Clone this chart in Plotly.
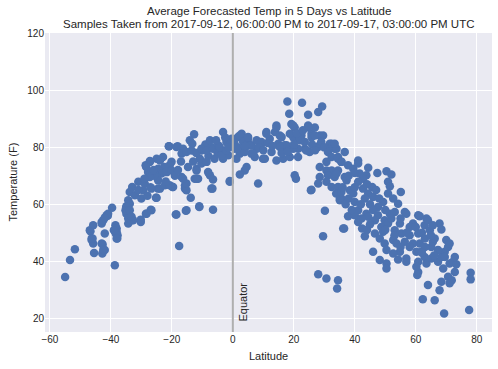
import plotly.graph_objects as go

south_lat = [-55,-53.4,-51.8,-46.9,-46.3,-45.8,-45.5,-45.8,-43,-41.4,-42,-42.7,-42,-42.8,-38.7,-38.1,-38.4,-37.9,-39.6,-34.9,-34.3,-32.7,-34.3,-30.2,-28.5,-26.9,-25.2,-18.7,-17.6,-15.4,-11,-6.7,-6.5,-1,-13.8,-15.7,-19.8,-24.5,
 -46.3,-46.7,-43,-42.5,-41,-43,-42.5,-46,-38.5,-38.1,-37.8,-39,-38.1,
 -34.9,-34.3,-33.2,-28.3,-26.7,-40.9,-42,-34.3,-33.8,-34.9,-35.2,-33.8,-33.2,-30.2,
 -12.7,-14.1,-13.3,-10.3,-21,-18.1,-16.3,-16.8,-15.2,-13.5,-22.9,-25,-23.9,-27.2,-28.6,-20.1,-20.7,-22.5,-24.5,-27.8,-23.4,-25,-24.5,-21.7,-20.1,-25.8,-27.2,-31,-28.9,-26.7,-33,-33.8,-32.1,-29.4,-23.9,-22.3,-20.7,-19.6,-25,-16.8,-15.7,-15.2,-14.7,-11.9,-11.4,-12.5,-10.3,-10.8,-11,-15.2,-18.5,
 -20.9,-18.5,-27.2,-28.4,-15.2,-11.9,-16.3,
 -30,-28,-27,-31,-29,-26,-22,-19,-18,-17,-13,-12,-8,-6,-5,-9,-7]
south_temp = [34.4,40.4,44.2,50.9,48,46.2,42.9,52.6,53.8,56.1,49.7,45.9,43.9,42.7,38.6,51.5,49.7,48,58.8,59.3,57.3,54.4,53.2,53.8,56.7,58.1,62.3,56.4,45.3,57.7,59.3,65.5,58.1,67.9,62.3,65.5,66.1,65.5,
 47.4,50.5,53.2,54.4,56,46.2,43.9,48,52.6,50.3,49.1,50.9,48,
 56.7,55,54.4,56.7,57.9,56.7,55.3,61.4,60.2,59,57.9,57.9,55.6,54.6,
 84.6,82.5,81.3,78.9,80.4,80.4,79.5,77.8,78.4,78.9,76.6,76,75.4,75.2,73.7,74.9,73.7,73.1,72.5,71.3,70.8,69.6,68.4,71.3,71.9,70.2,69.6,67.9,67.3,65.5,66.1,64.3,63.2,64.9,65.5,66.7,66.7,66.1,62.3,69.6,66.7,64.9,73.1,72.5,69,69,74.3,76,59,57.9,56.4,
 80.4,80.1,74.9,73.1,67.3,69,69,
 62,63,66,65,69,72,68,70,72,75,75,78,77,76,78,81,80]

equator_lat = [-3.2,-7.5,-10.3,-8.6,-6.5,-4.8,-3.7,-2.1,-1.5,-3.2,-0.4,1.7,2.9,3.4,5,5.6,3.9,2.3,0.7,6.1,7.2,7.8,9.4,11,12.1,10.5,14.3,13.8,15.4,14.9,17,16.5,14.3,16.5,18.7,19.2,20.3,19.8,22.5,22,21.4,23.6,24.7,25.8,26.9,28.5,29.6,25.2,28,17.9,22.7,18.5,24.7,28,29.3,20.3,20.7,8.3,4.5,3.9,2.3,-1,-7,-6.5,-7.5,-8.1,-8.6,-11.9,25.8,32.4,33.4,
 -1,2.3,3.4,5,6.1,7.8,9.4,11,14.3,16,17.6,18.7,22,23.6,24.7,25.8,1.2,9.9,21.4,-3.7,-4.3,-2.1,3.9,6.7,12.7,15.4,19.8,24.1,19.8,26.9,31.8,31.2,28.5,
 -5.5,-2.5,0.5,1.5,-1.5,4,8.5,10,11.5,13,16,18,20,21,23,26,27,29,30]
equator_temp = [85.4,82.5,79.5,78.9,79.5,80.7,78.9,81.9,77.2,76,83,83.6,84.8,82.5,83,80.7,79.5,77.8,79.5,77.8,76.6,79.5,81.3,85.4,83,76,87.7,85.4,84.2,81.3,80.7,79.5,75.4,76,76.6,88.2,87,83.6,84.2,82.5,79.5,79.5,87.7,84.8,87,84.2,84.2,78.4,80.1,96.1,95.7,91.8,91.5,92.4,94.4,70.2,69,67.3,73.1,71.9,70.5,68.2,65.5,68.7,70.2,71.3,74.9,71.9,65.1,81.3,79.5,
 82.5,84.2,81.9,83.6,80.7,82.5,81.9,84.8,87,83.6,80.7,84.8,83,81.9,87,83.6,76,76,76.6,77.2,80.1,78.9,78.4,77.8,78.4,80.1,79.5,78.9,87.7,84.2,81.3,79.5,80.7,
 82.5,83.5,81.5,80,80,80.5,80,79,81.5,80.5,78,78.5,81,85,86,81,79,82,80]

north_lat = [31.2,32.4,30.7,34.5,35.6,28.5,30.7,32.4,34.5,28.5,31.2,33.4,28,30.7,32.4,34.5,35.6,33.9,35.6,25.6,34.5,35.1,30.2,29.6,36.2,28,30.7,34.5,34.2,37.8,
 34,36.7,34.5,35.6,37.8,39.5,41.1,41.1,44.4,43.8,41.6,42.7,41.1,36.7,37.3,34,47.4,50.4,52,50.9,51.5,45.7,42.7,38.4,35.6,39.5,44.4,46,43.3,40,35.1,49.3,50.9,52.6,55.1,54.2,56.4,60.8,63.5,47.6,43.8,41.1,51.5,53.1,
 36.5,43.3,46,42.4,41.1,44.4,47.6,49.8,46.6,49.3,48.2,49.8,50.4,48.2,50.4,50.4,54.2,56.9,56.9,52.6,53.7,53.1,55.3,54.8,56.9,59.1,58,56.4,60.8,61.3,62.9,64.6,64,61.3,60.2,60.8,62.9,65.1,65.6,63.5,65.1,67.3,68.4,69.5,70.6,67.8,68.4,65.6,66.2,67.3,69,71.1,72.2,73.3,72.8,70,71.1,70.6,71.8,71.1,68.4,67.8,66.2,64,62.3,60.5,60.8,60.2,69.3,77.5,78,78,59.1,54.8,52.6,40,42.2,46.6,50.9,48.7,61.8,69.5,72.8,33.4,
 38,42,45,48,47,44,40,46,50,52,55,58,57,60,62,63,65,63,66,62,58,55,53,50,45,44,39,37,36,38,40]
north_temp = [78.4,76.6,74.9,76,74.9,73.1,71.9,71.9,71.9,69.6,70.2,69.6,67.3,67.9,66.1,66.1,64.9,63.8,62,64.9,63.8,62,57.7,48.8,51.5,35.4,33.9,33.3,30.4,55.8,
 79.5,78.4,76.6,74.9,73.7,72.5,75.4,74.3,72.8,70.2,70.8,69,67.9,69.6,68.4,70.8,71,71.6,70.5,67.9,66.3,66.1,65.5,64.9,64.3,63.8,63.8,62.6,62,60.8,61.4,60.8,63.8,62,64.3,60.2,57.3,56.1,55,59,56.7,57.9,56.7,57.3,
 51.5,48.8,43.3,51.5,53.8,55.6,56.1,54.4,49.7,50.3,48,46.2,43.9,40.4,39.2,37.4,40.6,40.9,39.8,47.4,46.2,50.9,49.7,53.2,56.7,53.2,49.1,46.8,49.7,55.8,52.6,50.9,54.4,46.2,43.3,39.8,41.5,45,46.8,39.2,40.9,39.8,41.5,43.3,45,53.2,51.1,52.6,48,43.9,37.4,39.2,39.8,38.9,36.2,47.4,46.2,34.5,33.3,32.2,32.8,29.8,26.3,31.6,26.6,35.1,36.2,38,21.6,22.8,35.9,33.6,46.2,43.3,42.7,56.1,55,54.4,53.2,52,43.3,41.5,41.5,81.3,
 62,60,60,62,65,67,66,58,58,55,55,52,50,52,50,48,49,45,42,43,45,45,49,51,53,51,58,60,66,70,71]

lat = south_lat + equator_lat + north_lat
temp = south_temp + equator_temp + north_temp

x_ticks = [-60, -40, -20, 0, 20, 40, 60, 80]
y_ticks = [20, 40, 60, 80, 100, 120]

title_line1 = "Average Forecasted Temp in 5 Days vs Latitude"
title_line2 = "Samples Taken from 2017-09-12, 06:00:00 PM to 2017-09-17, 03:00:00 PM UTC"

FONT = "Liberation Sans, Arial"
TXT = "#262626"

fig = go.Figure()
fig.add_trace(go.Scatter(
    x=lat, y=temp, mode="markers",
    marker=dict(color="#4C72B0", size=8.5, line=dict(width=0)),
    showlegend=False, hoverinfo="x+y"))

fig.add_shape(type="line", xref="x", yref="paper", x0=0, x1=0, y0=0, y1=1,
              line=dict(color="#AFAFAF", width=2), layer="above")
fig.add_annotation(x=0.8, y=18, xref="x", yref="y", text="Equator", textangle=-90,
                   showarrow=False, xanchor="left", yanchor="bottom",
                   font=dict(family=FONT, size=11, color=TXT))

# titles
fig.add_annotation(x=0.5, y=1.0725, xref="paper", yref="paper", text=title_line1,
                   showarrow=False, xanchor="center", yanchor="middle",
                   font=dict(family=FONT, size=11.5, color=TXT))
fig.add_annotation(x=0.5, y=1.0301, xref="paper", yref="paper", text=title_line2,
                   showarrow=False, xanchor="center", yanchor="middle",
                   font=dict(family=FONT, size=11.5, color=TXT))
fig.add_annotation(x=0.5, y=-0.080, xref="paper", yref="paper", text="Latitude",
                   showarrow=False, xanchor="center", yanchor="middle",
                   font=dict(family=FONT, size=11, color=TXT))
fig.add_annotation(x=-0.0738, y=0.5, xref="paper", yref="paper", text="Temperature (F)",
                   textangle=-90, showarrow=False, xanchor="center", yanchor="middle",
                   font=dict(family=FONT, size=11, color=TXT))

fig.update_layout(
    width=498, height=369,
    margin=dict(l=45, r=6, t=33, b=37),
    paper_bgcolor="white", plot_bgcolor="#EAEAF2",
    font=dict(family=FONT, size=10, color=TXT),
    xaxis=dict(range=[-61.6, 85], tickvals=x_ticks, showgrid=True, gridcolor="white",
               gridwidth=1, zeroline=False, showline=False, ticks="", automargin=False,
               tickfont=dict(size=10, color=TXT)),
    yaxis=dict(range=[15.1, 120.2], tickvals=y_ticks, showgrid=True, gridcolor="white",
               gridwidth=1, zeroline=False, showline=False, ticks="", automargin=False,
               tickfont=dict(size=10, color=TXT)),
)

fig.write_html("out.html", config={"displayModeBar": False},
               post_script="document.body.style.margin='0px';")
